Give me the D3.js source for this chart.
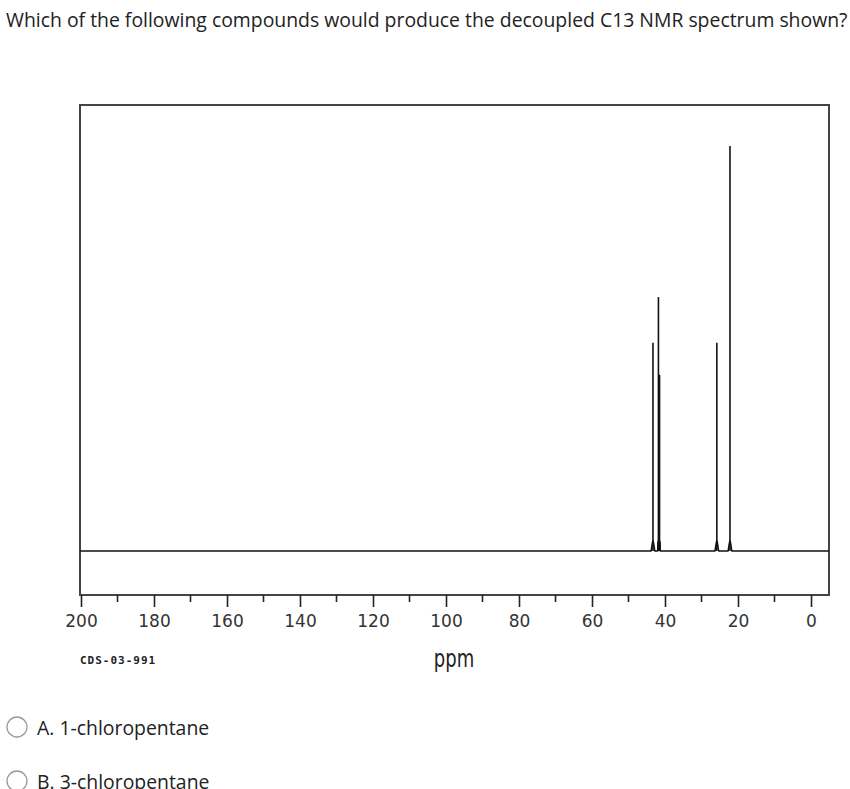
<!DOCTYPE html>
<meta charset="utf-8">
<title>C13 NMR</title>
<style>
body {
  margin: 0;
  background: #fff;
}
.question {
  font-family: "Open Sans", sans-serif;
  font-size: 19.4px;
  fill: #222;
}
.tick text {
  font-family: "DejaVu Sans", Verdana, sans-serif;
  font-size: 17px;
  fill: #333;
}
.spectrum {
  fill: none;
  stroke: #111;
  stroke-width: 1.6px;
  stroke-linejoin: round;
}
</style>
<svg></svg>
<script src="https://cdn.jsdelivr.net/npm/d3@7"></script>
<script>
// peaks (ppm, relative height)
var peakPpm = [43.3, 41.8, 41.5, 25.8, 22.2];
var peakHeight = [51.4, 62.7, 43.5, 51.4, 100];
var tickValues = [200, 180, 160, 140, 120, 100, 80, 60, 40, 20, 0];
var minorTicks = [190, 170, 150, 130, 110, 90, 70, 50, 30, 10];
var options = ["A. 1-chloropentane", "B. 3-chloropentane"];

var width = 850,
    height = 789;

var svg = d3.select("svg")
    .attr("width", width)
    .attr("height", height);

var x = d3.scaleLinear()
    .domain([200, 0])
    .range([81, 811]);
var y = d3.scaleLinear()
    .domain([0, 100])
    .range([551, 146]);

var frameLeft = 80, frameRight = 829, frameTop = 105, frameBottom = 595;

svg.append("text")
    .attr("class", "question")
    .attr("x", 6)
    .attr("y", 27)
    .text("Which of the following compounds would produce the decoupled C13 NMR spectrum shown?");

// plot frame
svg.append("rect")
    .attr("x", frameLeft)
    .attr("y", frameTop)
    .attr("width", frameRight - frameLeft)
    .attr("height", frameBottom - frameTop)
    .attr("fill", "#fff")
    .attr("stroke", "#444")
    .attr("stroke-width", 2);

// spectrum: baseline with a small foot under every peak
var pts = [[x.invert(frameLeft), 0]];
peakPpm.forEach(function(p, i) {
  pts.push([p + 0.5, 0], [p + 0.15, 2], [p, 2.5], [p - 0.15, 2], [p - 0.5, 0]);
});
pts.sort(function(a, b) { return b[0] - a[0]; });
pts.push([x.invert(frameRight), 0]);

var line = d3.line()
    .x(function(d) { return x(d[0]); })
    .y(function(d) { return y(d[1]); });

svg.append("path")
    .attr("class", "spectrum")
    .attr("d", line(pts));

// the spikes themselves
svg.append("g")
  .selectAll("line")
  .data(peakPpm)
  .enter().append("line")
    .attr("x1", function(d) { return x(d); })
    .attr("x2", function(d) { return x(d); })
    .attr("y1", y(0))
    .attr("y2", function(d, i) { return y(peakHeight[i]); })
    .attr("stroke", "#111")
    .attr("stroke-width", 1.6);

// x axis along the bottom of the frame
var axis = svg.append("g")
    .attr("transform", "translate(0," + frameBottom + ")")
    .call(d3.axisBottom(x).tickValues(tickValues).tickSize(12).tickPadding(8).tickFormat(d3.format("d")));
axis.select(".domain").remove();
axis.selectAll(".tick line").attr("stroke", "#222").attr("stroke-width", 1.6);

svg.append("g")
  .selectAll("line")
  .data(minorTicks)
  .enter().append("line")
    .attr("x1", function(d) { return x(d); })
    .attr("x2", function(d) { return x(d); })
    .attr("y1", frameBottom)
    .attr("y2", frameBottom + 7)
    .attr("stroke", "#222")
    .attr("stroke-width", 1.6);

svg.append("text")
    .attr("x", 80)
    .attr("y", 664)
    .attr("font-family", "'DejaVu Sans Mono', monospace")
    .attr("font-size", 11)
    .attr("font-weight", "bold")
    .attr("letter-spacing", 1)
    .attr("fill", "#222")
    .text("CDS-03-991");

svg.append("text")
    .attr("transform", "translate(454,667) scale(1,1.4)")
    .attr("text-anchor", "middle")
    .attr("font-family", "'DejaVu Sans', sans-serif")
    .attr("font-size", 18)
    .attr("fill", "#222")
    .text("ppm");

// answer choices
var choice = svg.append("g")
  .selectAll("g")
  .data(options)
  .enter().append("g")
    .attr("transform", function(d, i) { return "translate(0," + (727 + i * 54) + ")"; });
choice.append("circle")
    .attr("cx", 17)
    .attr("cy", 0)
    .attr("r", 10)
    .attr("fill", "#fff")
    .attr("stroke", "#999")
    .attr("stroke-width", 1.3);
choice.append("text")
    .attr("class", "question")
    .attr("x", 37)
    .attr("y", 8)
    .text(function(d) { return d; });
</script>
